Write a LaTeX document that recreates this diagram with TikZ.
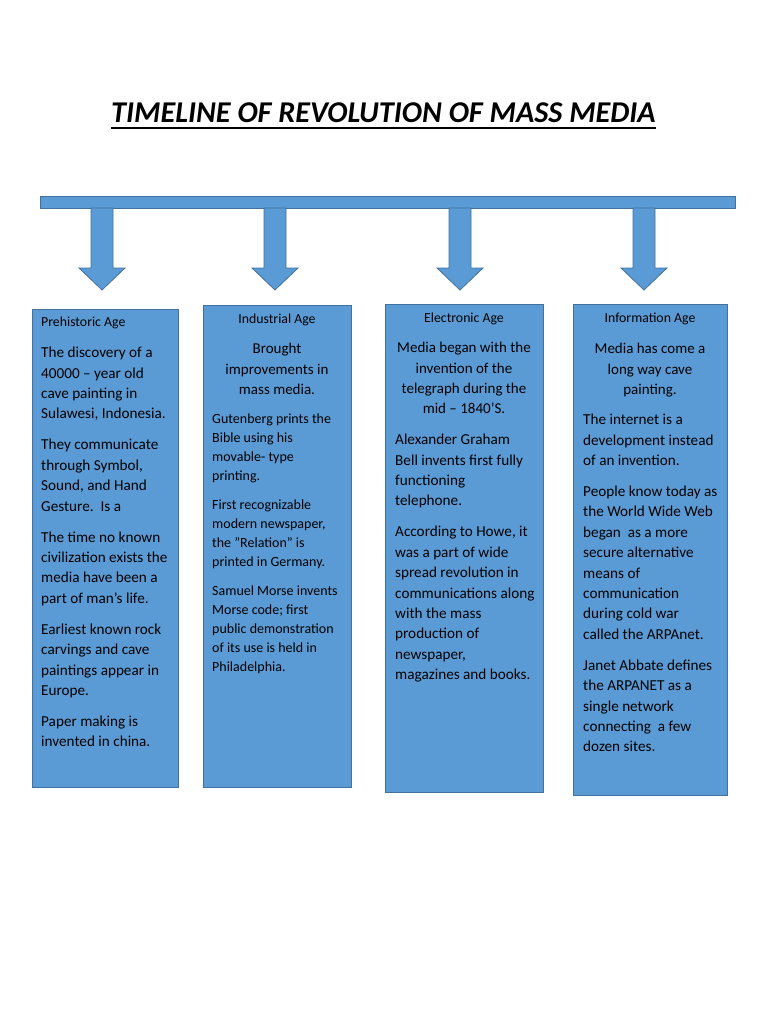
\documentclass[tikz,border=0pt]{standalone}
\usepackage{fontspec}
\setmainfont{Carlito}
\definecolor{panelblue}{HTML}{5B9BD5}
\definecolor{edgeblue}{HTML}{41719C}
\begin{document}
\begin{tikzpicture}[x=1pt,y=-1pt,
  panel/.style={draw=edgeblue, fill=panelblue, line width=0.8pt},
  boxnode/.style={panel, inner sep=0, anchor=north west},
  headtext/.style={font=\fontsize{13.8}{16}\selectfont, inner sep=0},
  bodytext/.style={font=\fontsize{15.2}{20.4}\selectfont, inner sep=0, align=left, anchor=north west},
  ctrtext/.style={font=\fontsize{15}{20.4}\selectfont, inner sep=0, align=center, anchor=north},
  smalltext/.style={font=\fontsize{14}{19}\selectfont, inner sep=0, align=left, anchor=north west},
  bigarrow/.pic={\draw[panel] (-11,0) -- (-11,60) -- (-23,60) -- (0,82) -- (23,60) -- (11,60) -- (11,0) -- cycle;}
]
\useasboundingbox (0,0) rectangle (768,1024);
\fill[white] (0,0) rectangle (768,1024);

% title
\node[font=\fontsize{30.2}{36}\selectfont\bfseries\itshape, anchor=base, inner sep=0] (title) at (383.5,123) {TIMELINE OF REVOLUTION OF MASS MEDIA};
\draw[line width=2.2pt] ([yshift=-4.8pt]title.base west) -- ([yshift=-4.8pt]title.base east);

% timeline bar
\node[boxnode, minimum width=695pt, minimum height=12pt] (bar) at (40,196) {};

% arrows
\pic (a1) at (102,208) {bigarrow};
\pic (a2) at (275,208) {bigarrow};
\pic (a3) at (460,208) {bigarrow};
\pic (a4) at (644,208) {bigarrow};

% boxes
\node[boxnode, minimum width=146pt, minimum height=478pt] (box1) at (32,309) {};
\node[boxnode, minimum width=148pt, minimum height=482pt] (box2) at (203,305) {};
\node[boxnode, minimum width=158pt, minimum height=488pt] (box3) at (385,304) {};
\node[boxnode, minimum width=154pt, minimum height=491pt] (box4) at (573,304) {};

% box 1
\node[headtext, anchor=base west] (h1) at (41,326.5) {Prehistoric Age};
\node[bodytext] (b1) at (41,347) {The discovery of a\\40000 – year old\\cave painting in\\Sulawesi, Indonesia.\\[10.6pt]
They communicate\\through Symbol,\\Sound, and Hand\\Gesture.\ \ Is a\\[10.6pt]
The time no known\\civilization exists the\\media have been a\\part of man’s life.\\[10.6pt]
Earliest known rock\\carvings and cave\\paintings appear in\\Europe.\\[10.6pt]
Paper making is\\invented in china.};

% box 2
\node[headtext, anchor=base] (h2) at (277,323.5) {Industrial Age};
\node[ctrtext] (c2) at (277,343) {Brought\\improvements in\\mass media.};
\node[smalltext] (b2) at (212,413.2) {Gutenberg prints the\\Bible using his\\movable- type\\printing.\\[10pt]
First recognizable\\modern newspaper,\\the ”Relation” is\\printed in Germany.\\[10pt]
Samuel Morse invents\\Morse code; first\\public demonstration\\of its use is held in\\Philadelphia.};

% box 3
\node[headtext, anchor=base] (h3) at (464,322.5) {Electronic Age};
\node[ctrtext] (c3) at (464,342) {Media began with the\\invention of the\\telegraph during the\\mid – 1840’S.};
\node[bodytext] (b3) at (395,434) {Alexander Graham\\Bell invents first fully\\functioning\\telephone.\\[10.6pt]
According to Howe, it\\was a part of wide\\spread revolution in\\communications along\\with the mass\\production of\\newspaper,\\magazines and books.};

% box 4
\node[headtext, anchor=base] (h4) at (650,322.5) {Information Age};
\node[ctrtext] (c4) at (650,343) {Media has come a\\long way cave\\painting.};
\node[bodytext] (b4) at (583,414) {The internet is a\\development instead\\of an invention.\\[10.6pt]
People know today as\\the World Wide Web\\began\ \ as a more\\secure alternative\\means of\\communication\\during cold war\\called the ARPAnet.\\[10.6pt]
Janet Abbate defines\\the ARPANET as a\\single network\\connecting\ \ a few\\dozen sites.};
\end{tikzpicture}
\end{document}
